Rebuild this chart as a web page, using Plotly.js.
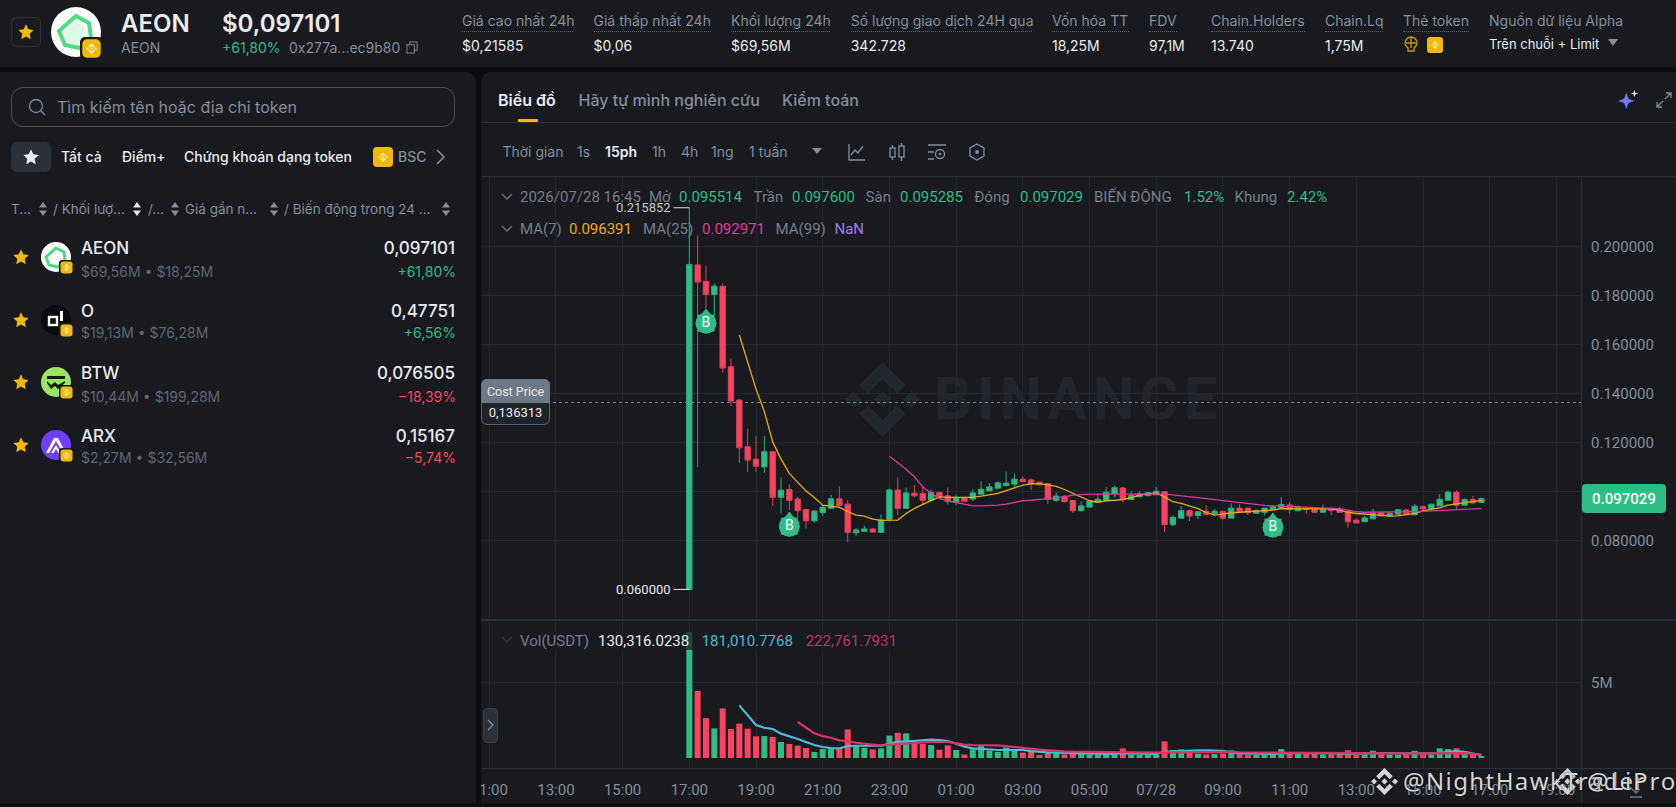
<!DOCTYPE html>
<html lang="vi"><head><meta charset="utf-8"><title>AEON</title>
<script src="https://cdn.plot.ly/plotly-3.0.1.min.js"></script>
<style>
html,body{margin:0;padding:0;width:1676px;height:807px;overflow:hidden;background:#0B0E11;font-family:Inter,Roboto,"Noto Sans",sans-serif;}
.abs{position:absolute;white-space:nowrap;line-height:1.2;}
#shell{position:absolute;inset:0;z-index:1;}
#plot{position:absolute;left:0;top:0;width:1676px;height:807px;z-index:2;}
#over{position:absolute;inset:0;z-index:3;pointer-events:none;}
svg{display:block}
</style></head><body>
<div id="shell"></div><div id="plot"></div><div id="over"></div>
<script>
// ---------- chart data ----------
const opens=[.0600,.1925,.1858,.1804,.1838,.1509,.1373,.1182,.1132,.1100,.1162,.0976,.1008,.0969,.0926,.0880,.0914,.0931,.0970,.0948,.0831,.0837,.0847,.0833,.0886,.1006,.0931,.0993,.0992,.0964,.0996,.0982,.0955,.0976,.0969,.0989,.1002,.1013,.1024,.1030,.1050,.1047,.1038,.1032,.0964,.0981,.0963,.0921,.0936,.0956,.0964,.0991,.1014,.0967,.0978,.0983,.0986,.0999,.0864,.0891,.0922,.0902,.0919,.0909,.0919,.0891,.0932,.0932,.0911,.0915,.0926,.0932,.0945,.0921,.0930,.0930,.0915,.0930,.0926,.0918,.0883,.0876,.0888,.0913,.0900,.0907,.0924,.0905,.0939,.0930,.0941,.0964,.0997,.0944,.0967,.095514];
const closes=[.1927,.1855,.1804,.1838,.1504,.1369,.1178,.1128,.1103,.1162,.0976,.1005,.0964,.0921,.0880,.0920,.0936,.0970,.0943,.0833,.0843,.0847,.0834,.0883,.1006,.0931,.0994,.0982,.0964,.0996,.0978,.0958,.0976,.0960,.0994,.1009,.1019,.1035,.1034,.1050,.1041,.1031,.1027,.0967,.0981,.0958,.0921,.0941,.0960,.0968,.0997,.1015,.0967,.0983,.0991,.0995,.1001,.0864,.0894,.0922,.0900,.0917,.0906,.0919,.0891,.0932,.0919,.0913,.0922,.0932,.0937,.0947,.0926,.0937,.0926,.0915,.0929,.0922,.0915,.0876,.0871,.0892,.0910,.0900,.0910,.0925,.0907,.0939,.0928,.0948,.0968,.0997,.0944,.0967,.0953,.097029];
const highs=[.215852,.2046,.1920,.1849,.1850,.1543,.1377,.1257,.1226,.1226,.1163,.1057,.1029,.0978,.0926,.0924,.0944,.0986,.1020,.0964,.0850,.0860,.0850,.0906,.1015,.1057,.1016,.1026,.1019,.1008,.0996,.1016,.0987,.0976,.1009,.1043,.1033,.1041,.1081,.1073,.1062,.1053,.1040,.1035,.0997,.0985,.0964,.0960,.0964,.0992,.1018,.1024,.1018,.1001,.1001,.0998,.1018,.1001,.0903,.0940,.0926,.0920,.0944,.0928,.0919,.0951,.0948,.0933,.0928,.0933,.0944,.0977,.0956,.0944,.0937,.0931,.0947,.0934,.0937,.0921,.0890,.0900,.0930,.0918,.0915,.0928,.0928,.0948,.0940,.0948,.0989,.1005,.1005,.0971,.0981,.0976];
const lows=[.0600,.1100,.1747,.1720,.1484,.1349,.1117,.1080,.1080,.1076,.0941,.0910,.0924,.0892,.0849,.0872,.0899,.0929,.0935,.0794,.0819,.0837,.0834,.0833,.0884,.0903,.0929,.0975,.0944,.0961,.0969,.0947,.0944,.0960,.0961,.0989,.1002,.1013,.1020,.1016,.1037,.1005,.1027,.0948,.0956,.0958,.0913,.0921,.0933,.0953,.0964,.0977,.0956,.0965,.0976,.0981,.0985,.0834,.0858,.0891,.0879,.0887,.0905,.0902,.0883,.0891,.0918,.0903,.0911,.0903,.0926,.0931,.0910,.0919,.0909,.0913,.0915,.0903,.0914,.0852,.0871,.0875,.0887,.0899,.0896,.0907,.0907,.0902,.0921,.0928,.0941,.0964,.0928,.0944,.0948,.095285];
const ma7=[.1639,.1525,.1418,.1326,.1203,.1132,.1074,.1037,.1002,.0975,.0944,.0940,.0935,.0917,.0903,.0899,.0887,.0882,.0883,.0883,.0910,.0931,.0947,.0964,.0978,.0976,.0976,.0976,.0976,.0981,.0985,.0992,.1003,.1015,.1026,.1031,.1032,.1027,.1021,.1008,.0992,.0977,.0962,.0956,.0962,.0964,.0967,.0975,.0985,.0990,.0994,.0978,.0958,.0951,.0941,.0930,.0914,.0903,.0907,.0913,.0915,.0917,.0918,.0919,.0924,.0930,.0929,.0929,.0929,.0930,.0930,.0929,.0924,.0915,.0910,.0906,.0905,.0902,.0899,.0900,.0905,.0910,.0921,.0926,.0933,.0944,.0949,.0955,.0959,.096391];
const ma25=[.1144,.1118,.1091,.1060,.1019,.0992,.0971,.0962,.0956,.0949,.0941,.0941,.0941,.0944,.0948,.0956,.0962,.0964,.0967,.0969,.0972,.0978,.0985,.0988,.0989,.0989,.0989,.0989,.0989,.0989,.0990,.0992,.0992,.0989,.0986,.0983,.0979,.0975,.0971,.0967,.0963,.0956,.0952,.0948,.0944,.0943,.0941,.0940,.0939,.0937,.0936,.0934,.0933,.0932,.0930,.0924,.0917,.0915,.0915,.0915,.0915,.0917,.0917,.0918,.0919,.0921,.0924,.0925,.0926,.0928,.0929,.092971];
const volumesM=[8.33,4.43,2.64,1.96,3.28,1.92,2.27,1.94,1.43,1.45,1.39,1.06,.93,.82,.66,.40,.59,.64,.59,1.89,.79,.68,.57,.64,1.48,1.67,1.63,.93,.93,.86,.55,.84,.53,.24,.57,.79,.48,.40,.70,.53,.35,.46,.20,.35,.37,.24,.29,.42,.24,.24,.26,.26,.64,.24,.22,.24,.24,1.10,.53,.57,.40,.29,.24,.26,.29,.51,.24,.24,.22,.24,.26,.59,.40,.35,.29,.29,.24,.29,.24,.51,.24,.24,.48,.26,.22,.22,.26,.48,.24,.22,.64,.59,.64,.42,.29,.130316];
const volMaShortM=[3.48,2.84,2.18,2.0,1.92,1.61,1.45,1.26,1.06,.86,.73,.66,.64,.79,.81,.81,.79,.81,.93,1.08,1.08,1.12,1.17,1.21,1.19,1.12,.95,.75,.64,.59,.55,.53,.53,.55,.53,.46,.40,.37,.35,.33,.31,.31,.29,.29,.27,.27,.32,.31,.30,.29,.28,.41,.44,.48,.51,.50,.50,.50,.47,.36,.30,.30,.28,.27,.27,.32,.32,.33,.34,.35,.35,.33,.28,.31,.31,.30,.34,.33,.32,.30,.30,.33,.31,.30,.35,.40,.45,.40,.28,.181011];
const volMaLongM=[2.38,1.98,1.63,1.45,1.34,1.17,1.12,1.01,.93,.88,.84,.88,.95,.99,1.01,1.04,1.06,1.06,1.06,.97,.88,.86,.86,.86,.84,.79,.73,.64,.59,.55,.51,.46,.44,.42,.40,.40,.40,.39,.38,.38,.37,.36,.35,.35,.35,.37,.38,.39,.40,.41,.42,.42,.40,.38,.37,.37,.36,.36,.36,.36,.35,.34,.34,.33,.33,.32,.32,.31,.31,.31,.31,.31,.31,.31,.31,.31,.31,.32,.33,.33,.32,.27,.222762];
const buyBars=[2,12,70];
const buyPrices=[.1687,.0858,.0854];
const costPrice=.136313;
const priceTicks=[.08,.10,.12,.14,.16,.18,.20];
const volTicksM=[5];
const timeTickLabels=["11:00","13:00","15:00","17:00","19:00","21:00","23:00","01:00","03:00","05:00","07/28","09:00","11:00","13:00","15:00","17:00","19:00"];
// ---------- time scale ----------
const firstBar=Date.UTC(2026,6,27,17,0,0), BAR=15*60000, HOUR=3600000;
const iso=ms=>new Date(ms).toISOString().slice(0,19).replace('T',' ');
const barTimes=closes.map((_,i)=>iso(firstBar+i*BAR));
const timeTicks=timeTickLabels.map((_,i)=>iso(firstBar+(i-3)*2*HOUR));
const viewRange=[iso(firstBar-6.246*HOUR),iso(firstBar+26.738*HOUR)];
const GREEN='#2EBD85',RED='#F6465D',GRID='#23272E',GRAY='#848E9C',DIM='#5E6673',WHITE='#EAECEF',GOLD='#F0B90B',PANEL='#181A20';
const M=1e6;

const traces=[
 {type:'candlestick',x:barTimes,open:opens,high:highs,low:lows,close:closes,xaxis:'x',yaxis:'y',whiskerwidth:0,
  increasing:{line:{color:'#2BB07D',width:1},fillcolor:GREEN},decreasing:{line:{color:'#DF4358',width:1},fillcolor:'#F9435F'},hoverinfo:'skip',showlegend:false},
 {type:'scatter',mode:'lines',x:barTimes.slice(-ma7.length),y:ma7,xaxis:'x',yaxis:'y',line:{color:'#F0A90B',width:1.3},hoverinfo:'skip',showlegend:false},
 {type:'scatter',mode:'lines',x:barTimes.slice(-ma25.length),y:ma25,xaxis:'x',yaxis:'y',line:{color:'#E0369F',width:1.3},hoverinfo:'skip',showlegend:false},
 {type:'bar',x:barTimes,y:volumesM.map(v=>v*M),xaxis:'x',yaxis:'y2',marker:{color:closes.map((c,i)=>c>=opens[i]?GREEN:'#F9435F'),line:{width:0}},hoverinfo:'skip',showlegend:false},
 {type:'scatter',mode:'lines',x:barTimes.slice(-volMaShortM.length),y:volMaShortM.map(v=>v*M),xaxis:'x',yaxis:'y2',line:{color:'#4FBCD6',width:2.2},hoverinfo:'skip',showlegend:false},
 {type:'scatter',mode:'lines',x:barTimes.slice(-volMaLongM.length),y:volMaLongM.map(v=>v*M),xaxis:'x',yaxis:'y2',line:{color:'#D8336B',width:2.2},hoverinfo:'skip',showlegend:false},
 // "B" buy tags: rounded body built from a circle and a square, small tip, letter
 {type:'scatter',mode:'markers',x:buyBars.map(i=>barTimes[i]),y:buyPrices.map(p=>p+.0042),xaxis:'x',yaxis:'y',marker:{symbol:'triangle-up',size:9,color:GREEN,line:{width:0}},hoverinfo:'skip',showlegend:false},
 {type:'scatter',mode:'markers',x:buyBars.map(i=>barTimes[i]),y:buyPrices,xaxis:'x',yaxis:'y',marker:{symbol:'circle',size:21,color:GREEN,line:{width:0}},hoverinfo:'skip',showlegend:false},
 {type:'scatter',mode:'markers+text',x:buyBars.map(i=>barTimes[i]),y:buyPrices,xaxis:'x',yaxis:'y',marker:{symbol:'square',size:17,color:GREEN,line:{width:0}},
  text:buyBars.map(()=>'B'),textposition:'middle center',textfont:{family:'Roboto',size:14,color:'#FFFFFF'},hoverinfo:'skip',showlegend:false}
];
const layout={
 width:1676,height:807,margin:{l:481,r:95,t:177,b:39,pad:0},paper_bgcolor:'rgba(0,0,0,0)',plot_bgcolor:'rgba(0,0,0,0)',
 showlegend:false,dragmode:false,hovermode:false,bargap:.28,boxgap:.36,boxgroupgap:0,
 font:{family:'Roboto, sans-serif',color:GRAY,size:15},
 xaxis:{type:'date',range:viewRange,anchor:'y2',tickmode:'array',tickvals:timeTicks,ticktext:timeTickLabels,rangeslider:{visible:false},
   showgrid:true,gridcolor:GRID,gridwidth:1,zeroline:false,showline:false,ticks:'outside',ticklen:8,tickcolor:'rgba(0,0,0,0)',tickfont:{size:15,color:GRAY}},
 yaxis:{domain:[.2504,1],range:[.0475,.2284],side:'right',anchor:'x',tickmode:'array',tickvals:priceTicks,tickformat:'.6f',
   showgrid:true,gridcolor:GRID,gridwidth:1,zeroline:false,showline:false,ticks:'outside',ticklen:6,tickcolor:'rgba(0,0,0,0)',tickfont:{size:15,color:GRAY}},
 yaxis2:{domain:[0,.2470],range:[-.66*M,8.99*M],side:'right',anchor:'x',tickmode:'array',tickvals:volTicksM.map(v=>v*M),ticktext:volTicksM.map(v=>v+'M'),
   showgrid:true,gridcolor:GRID,gridwidth:1,zeroline:false,showline:false,ticks:'outside',ticklen:6,tickcolor:'rgba(0,0,0,0)',tickfont:{size:15,color:GRAY}},
 shapes:[{type:'line',xref:'paper',x0:0,x1:1,yref:'y',y0:costPrice,y1:costPrice,line:{color:'#7E8794',width:1,dash:'dot'}}],
 annotations:[
  {x:barTimes[0],y:highs[0],xref:'x',yref:'y',text:highs[0].toFixed(6),showarrow:true,arrowhead:0,arrowwidth:1,arrowcolor:'#D1D4DC',ax:-16,ay:0,xanchor:'right',standoff:0,font:{size:13,color:'#C4C8CF'}},
  {x:barTimes[0],y:lows[0],xref:'x',yref:'y',text:lows[0].toFixed(6),showarrow:true,arrowhead:0,arrowwidth:1,arrowcolor:'#EAECEF',ax:-16,ay:0,xanchor:'right',standoff:0,font:{size:13,color:'#EAECEF'}}
 ]
};
Plotly.newPlot('plot',traces,layout,{displayModeBar:false,staticPlot:true});

// ---------- page chrome ----------
const shell=document.getElementById('shell'),over=document.getElementById('over');
const RB='font-family:Roboto,sans-serif;';
function box(p,x,y,w,h,css){const d=document.createElement('div');d.className='abs';d.style.cssText+=`left:${x}px;top:${y}px;width:${w}px;height:${h}px;${css||''}`;p.appendChild(d);return d;}
function txt(x,y,s,o){o=o||{};const d=document.createElement('div');d.className='abs';d.textContent=s;
 d.style.cssText+=`${o.right?'right:'+(1676-x):'left:'+x}px;top:${y}px;transform:translateY(-50%);font-size:${o.size||14}px;color:${o.color||GRAY};font-weight:${o.weight||400};${o.css||''}`;(o.layer||over).appendChild(d);return d;}
function svg(x,y,w,h,inner,vb,layer){const d=document.createElement('div');d.className='abs';d.style.cssText+=`left:${x-w/2}px;top:${y-h/2}px;width:${w}px;height:${h}px;`;
 d.innerHTML=`<svg width="${w}" height="${h}" viewBox="${vb||'0 0 24 24'}">${inner}</svg>`;(layer||over).appendChild(d);return d;}
const BN='M38.5 53 63 28.5 87.5 53l14.3-14.2L63 0 24.2 38.8zM0 63l14.2-14.2L28.5 63 14.2 77.2zM38.5 73 63 97.5 87.5 73l14.3 14.2L63 126 24.2 87.2zM97.5 63l14.3-14.2L126 63l-14.2 14.2zM77.5 63 63 48.4 52.3 59.1l-1.2 1.2-2.6 2.6L63 77.5z';
const STAR='M12 1.8l3.1 6.6 7.1.9-5.2 5 1.3 7.2L12 18.1l-6.3 3.4L7 14.3l-5.2-5 7.1-.9z';
const star=(x,y,s,c)=>svg(x,y,s,s,`<path d="${STAR}" fill="${c||GOLD}"/>`);
const bnb=(x,y,s,ring)=>svg(x,y,s,s,`${ring?`<rect width="100" height="100" rx="22" fill="${ring}"/>`:''}<rect x="${ring?10:0}" y="${ring?10:0}" width="${ring?80:100}" height="${ring?80:100}" rx="20" fill="#F0B90B"/><g transform="translate(27 27) scale(.37)" ><path d="${BN}" fill="#FFF3C4"/></g>`,'0 0 100 100');
const chev=(x,y)=>svg(x,y,14,14,'<path d="M2 4l5 5 5-5" fill="none" stroke="#6B7380" stroke-width="1.4"/>','0 0 14 14');
const sortI=(x,y,c)=>svg(x,y,10,16,`<path d="M5 1l4 5.5H1zM5 15l4-5.5H1z" fill="${c||GRAY}"/>`,'0 0 10 16');

// panels
box(shell,0,0,1676,67,`background:${PANEL}`);
box(shell,481,72,1195,731,`background:${PANEL};border-top-left-radius:10px`);
box(shell,481,122,1195,1,'background:#2B3139');
box(shell,481,176,1195,1,'background:#2B3139');
box(shell,481,619,1195,2,'background:#2B3139');
box(shell,481,768,1195,1,'background:#2B3139');
box(shell,1581,177,1,626,'background:#2B3139');
// watermark
svg(882,399,75,75,`<path d="${BN}" fill="#22262D"/>`,'0 0 126 126',shell);
txt(934,399,'BINANCE',{layer:shell,size:59,weight:700,color:'#21252B',css:RB+'letter-spacing:5.5px;'});

// sidebar covers the left overflow of the plot
box(over,0,68,481,739,'background:#0B0E11');
box(over,0,72,476,731,`background:${PANEL};border-top-right-radius:10px`);

// header
box(over,11,17,30,30,'border:1px solid #2B3139;border-radius:6px;box-sizing:border-box');
star(26,32,18);
svg(76,32,50,50,'<circle cx="25" cy="25" r="25" fill="#fff"/><path d="M25 9l13 7 2 15-11 10-15-3-6-14z" fill="none" stroke="#4ADE80" stroke-width="4"/><path d="M25 15l9 5 1 10-8 7-10-2-4-10z" fill="#BFF5D0" opacity=".55"/>','0 0 50 50');
bnb(91,48,23,'#181A20');
txt(121,24,'AEON',{size:24,weight:600,color:WHITE});
txt(121,48,'AEON',{size:14,color:GRAY});
txt(222,24,'$0,097101',{size:24,weight:600,color:WHITE});
txt(222,48,'+61,80%',{size:14,color:GREEN});
txt(289,48,'0x277a...ec9b80',{size:14,color:GRAY});
svg(412,47,13,13,'<rect x="4" y="1" width="8" height="9" fill="none" stroke="#848E9C"/><rect x="1" y="4" width="8" height="9" fill="#181A20" stroke="#848E9C"/>','0 0 14 14');
const statLabels=['Giá cao nhất 24h','Giá thấp nhất 24h','Khối lượng 24h','Số lượng giao dịch 24H qua','Vốn hóa TT','FDV','Chain.Holders','Chain.Lq','Thẻ token','Nguồn dữ liệu Alpha'];
const statValues=['$0,21585','$0,06','$69,56M','342.728','18,25M','97,1M','13.740','1,75M','','Trên chuỗi + Limit'];
const statX=[462,593.5,731,850.7,1052,1149,1211,1325,1403,1489];
const statW=[111,117.5,99,181,77,28,94,58,66,134];
statLabels.forEach((s,i)=>{txt(statX[i],21,s,{size:14,color:GRAY});
 if(i<9)box(over,statX[i],31,statW[i],0,'border-bottom:1px dotted #5E6673');
 if(statValues[i])txt(statX[i],i==9?45:46,statValues[i],{size:i==9?13:14,color:WHITE});});
svg(1411,45,14,18,'<path d="M7 1a6 6 0 0 1 6 6c0 2.5-2 4-3 5v3H4v-3c-1-1-3-2.5-3-5a6 6 0 0 1 6-6zM2 7h10M7 1v11" fill="none" stroke="#C99400" stroke-width="1.4"/>','0 0 14 18');
bnb(1434.5,45,16);
svg(1613,42,10,7,'<path d="M0 0h10L5 7z" fill="#848E9C"/>','0 0 10 7');

// tabs
txt(498,100.5,'Biểu đồ',{size:16,weight:600,color:WHITE});
txt(578.5,100.5,'Hãy tự mình nghiên cứu',{size:16,weight:500,color:GRAY});
txt(782,100.5,'Kiểm toán',{size:16,weight:500,color:GRAY});
box(over,518,119,20,3,`background:${GOLD};border-radius:1px`);
svg(1629,100,22,22,'<path d="M9 4l2.4 6.6L18 13l-6.6 2.4L9 22l-2.4-6.6L0 13l6.6-2.4z" fill="#6C7BF2"/><path d="M18 1l1 3 3 1-3 1-1 3-1-3-3-1 3-1z" fill="#E4D9FF"/>');
svg(1663.5,100,18,18,'<path d="M11 2h5v5M16 2l-6 6M7 16H2v-5M2 16l6-6" fill="none" stroke="#848E9C" stroke-width="1.3"/>','0 0 18 18');
// toolbar
[['Thời gian',502.4],['1s',577],['1h',652],['4h',681],['1ng',711],['1 tuần',749]].forEach(a=>txt(a[1],152,a[0],{size:14,color:GRAY}));
txt(605,152,'15ph',{size:14,weight:600,color:WHITE});
svg(817,151,10,6,'<path d="M0 0h10L5 6z" fill="#848E9C"/>','0 0 10 6');
svg(857,152,18,18,'<path d="M1 1v16h16M3 12l4-5 3 3 5-7" fill="none" stroke="#848E9C" stroke-width="1.3"/>','0 0 18 18');
svg(897,152,18,18,'<rect x="2" y="5" width="5" height="9" fill="none" stroke="#848E9C" stroke-width="1.3"/><rect x="11" y="3" width="5" height="11" fill="none" stroke="#848E9C" stroke-width="1.3"/><path d="M4.5 2v3M4.5 14v3M13.5 0v3M13.5 14v4" stroke="#848E9C" stroke-width="1.3"/>','0 0 18 18');
svg(937,152,18,18,'<path d="M0 2h18M0 9h6M0 16h6" stroke="#848E9C" stroke-width="1.3"/><circle cx="12" cy="11" r="4.5" fill="none" stroke="#848E9C" stroke-width="1.3"/><circle cx="12" cy="11" r="1.3" fill="#848E9C"/>','0 0 18 18');
svg(977,152,18,18,'<path d="M9 1l7 4v8l-7 4-7-4V5z" fill="none" stroke="#848E9C" stroke-width="1.3"/><circle cx="9" cy="9" r="2" fill="#848E9C"/>','0 0 18 18');

// chart legends
chev(507,197);chev(507,229);chev(507,640);
const dark={size:15,color:'#767E8B',css:RB};
const gv={size:15,color:GREEN,css:RB};
const lv=c=>({size:15,color:c,css:RB});
txt(520,197,'2026/07/28 16:45',dark);txt(649,197,'Mở',dark);txt(679,197,'0.095514',gv);txt(753.6,197,'Trần',dark);txt(792,197,'0.097600',gv);
txt(865.6,197,'Sàn',dark);txt(900,197,'0.095285',gv);txt(974.3,197,'Đóng',dark);txt(1020,197,'0.097029',gv);txt(1094,197,'BIẾN ĐỘNG',dark);txt(1184,197,'1.52%',gv);txt(1234.5,197,'Khung',dark);txt(1287,197,'2.42%',gv);
txt(520,229,'MA(7)',dark);txt(569,229,'0.096391',lv('#F0A90B'));txt(643,229,'MA(25)',dark);txt(702,229,'0.092971',lv('#E0369F'));txt(775.6,229,'MA(99)',dark);txt(834.5,229,'NaN',lv('#A27BEA'));
box(over,500,632,420,18,'background:rgba(24,26,32,.72)');
txt(520,641,'Vol(USDT)',dark);txt(598,641,'130,316.0238',lv(WHITE));txt(701.7,641,'181,010.7768',lv('#4FBCD6'));txt(805.7,641,'222,761.7931',lv('#C9335F'));

// cost price tag
box(over,481,379,69,46,'background:#1E2229;border:1px solid #5E6673;border-radius:6px;box-sizing:border-box');
box(over,481,379,69,24,'background:#6F7886;border-radius:6px 6px 0 0');
txt(515.5,391,'Cost Price',{size:12.5,color:WHITE,css:RB+'transform:translate(-50%,-50%);'});
txt(515.5,413,'0,136313',{size:13,color:WHITE,css:RB+'transform:translate(-50%,-50%);'});
// last price tag
box(over,1582,484,84,29,`background:${GREEN};border-radius:4px`);
txt(1624,498.5,'0.097029',{size:15,color:'#fff',weight:500,css:RB+'transform:translate(-50%,-50%);'});
// collapse handle
box(over,483,708,15,35,'background:#2B3139;border:1px solid #3A414B;border-radius:4px;box-sizing:border-box');
svg(490.5,725,8,12,'<path d="M1 1l5 5-5 5" fill="none" stroke="#848E9C" stroke-width="1.2"/>','0 0 8 12');
svg(1636,790,16,16,'<path d="M8 1v9M4 7l4 4 4-4M2 15h12" fill="none" stroke="#6B7380" stroke-width="1.3"/>','0 0 16 16');

// sidebar contents
box(over,11,87,444,40,'border:1px solid #474D57;border-radius:12px;box-sizing:border-box');
svg(37,107,18,18,'<circle cx="8" cy="8" r="6.5" fill="none" stroke="#848E9C" stroke-width="1.3"/><path d="M13 13l4 4" stroke="#848E9C" stroke-width="1.3"/>','0 0 18 18');
txt(57,108,'Tìm kiếm tên hoặc địa chỉ token',{size:16,color:GRAY});
box(over,11,142,40,30,'background:#2B3139;border-radius:6px');
star(31,157,18,'#EAECEF');
txt(61,157,'Tất cả',{size:14,weight:500,color:WHITE});
txt(122,157,'Điểm+',{size:14,weight:500,color:WHITE});
txt(184,157,'Chứng khoán dạng token',{size:14,weight:500,color:WHITE});
bnb(383,157,20);
txt(398,157,'BSC',{size:14,weight:500,color:GRAY});
svg(441,157,12,18,'<path d="M2 2l7 7-7 7" fill="none" stroke="#848E9C" stroke-width="1.6"/>','0 0 12 18');
const hs={size:13.5};
txt(11,209,'T...',hs);sortI(43,209);txt(53,209,'/ Khối lượ...',hs);sortI(137,209,WHITE);txt(148,209,'/...',hs);sortI(175,209);txt(185,209,'Giá gần n...',hs);sortI(274,209);txt(284,209,'/ Biến động trong 24 ...',hs);sortI(446,209);
const rowNames=['AEON','O','BTW','ARX'];
const rowSub=['$69,56M • $18,25M','$19,13M • $76,28M','$10,44M • $199,28M','$2,27M • $32,56M'];
const rowPrice=['0,097101','0,47751','0,076505','0,15167'];
const rowChange=['+61,80%','+6,56%','−18,39%','−5,74%'];
const rowY=[248,311,373,436], rowY2=[272,333,397,458], rowIc=[257,320,382,445];
const logos=[
 '<circle cx="15" cy="15" r="15" fill="#fff"/><path d="M15 6l8 4 1 9-7 6-9-2-3-8z" fill="none" stroke="#4ADE80" stroke-width="3"/>',
 '<circle cx="15" cy="15" r="15" fill="#0B0B0B"/><rect x="8" y="12" width="8" height="8" fill="none" stroke="#fff" stroke-width="2.4"/><path d="M19 6h3v10h-3z" fill="#fff"/>',
 '<circle cx="15" cy="15" r="15" fill="#9BE564"/><path d="M6 9h18v3H6zM6 14l4 4 4-3 3 3 7-4v2l-7 6-3-3-4 3-4-6z" fill="#12200A"/>',
 '<circle cx="15" cy="15" r="15" fill="#6F3FF5"/><path d="M5 23L13 8h4l8 15h-3l-7-12-7 12zM10 23l5-8 5 8h-2.5L15 19l-2.5 4z" fill="#fff"/>'];
rowNames.forEach((n,i)=>{
 star(21,rowIc[i],18);
 svg(56,rowIc[i],30,30,logos[i],'0 0 30 30');
 bnb(66,rowIc[i]+10,15,'#181A20');
 txt(81,rowY[i],n,{size:17,weight:500,color:WHITE});
 txt(81,rowY2[i],rowSub[i],{size:14,color:DIM});
 txt(455,rowY[i],rowPrice[i],{right:1,size:17,weight:500,color:WHITE});
 txt(456,rowY2[i],rowChange[i],{right:1,size:14,color:i<2?GREEN:RED});
});
// photo watermarks
const wm='text-shadow:0 0 2px rgba(0,0,0,.8);font-family:"Noto Sans";';
svg(1384,781,27,27,`<path d="${BN}" fill="#D5D5D5"/>`,'0 0 126 126');
svg(1567,781,27,27,`<path d="${BN}" fill="#D5D5D5"/>`,'0 0 126 126');
txt(1403,781,'@NightHawkTrader',{size:24,color:'#D5D5D5',css:wm+'letter-spacing:1.4px;'});
txt(1587,781,'@LiPro',{size:24,color:'#D5D5D5',css:wm+'letter-spacing:1.9px;'});
</script></body></html>
